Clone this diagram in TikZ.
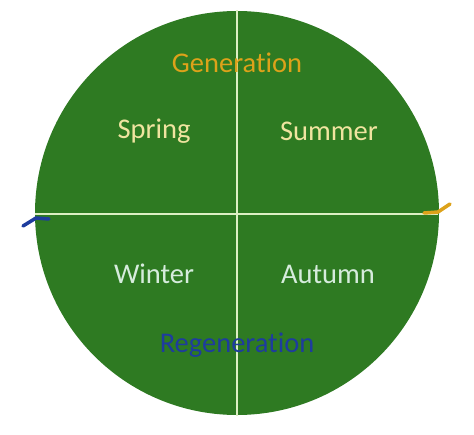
\documentclass[tikz,border=0pt]{standalone}
\usepackage{fontspec}
\setmainfont{Carlito}[Ligatures=NoCommon]
\definecolor{seasongreen}{HTML}{2E7A22}
\definecolor{axisline}{HTML}{DDEFC4}
\definecolor{gengold}{HTML}{DDA21A}
\definecolor{regenblue}{HTML}{1E3C9E}
\definecolor{warmtext}{HTML}{F0E4A0}
\definecolor{coldtext}{HTML}{D6ECDD}
\tikzset{season/.style={font=\fontsize{28.5}{32}\selectfont}}
\begin{document}
\begin{tikzpicture}[x=1pt,y=-1pt]
\useasboundingbox (0,0) rectangle (474,434);
% the year as a disc, split in quarters
\fill[seasongreen] (237,213) circle (202);
\draw[axisline,line width=1.3pt] (237,10) -- (237,416);
\draw[axisline,line width=1.3pt] (35,214) -- (438,214);
% seasons
\node[season,text=warmtext] (spring) at (154,131) {Spring};
\node[season,text=warmtext] (summer) at (329,131) {Summer};
\node[season,text=coldtext] (winter) at (154,274) {Winter};
\node[season,text=coldtext] (autumn) at (328,274) {Autumn};
% the two halves
\node[season,text=gengold] (gen) at (237,63) {Generation};
\node[season,text=regenblue] (regen) at (237,345) {Regeneration};
% small ticks on the rim
\coordinate (lefta) at (23,226);
\coordinate (leftb) at (36,218);
\coordinate (leftc) at (49,219);
\draw[regenblue,line width=3.5pt,line cap=round] (lefta) -- (leftb) -- (leftc);
\coordinate (righta) at (424,213);
\coordinate (rightb) at (438,212);
\coordinate (rightc) at (450,204);
\draw[gengold,line width=3.5pt,line cap=round] (righta) -- (rightb) -- (rightc);
\end{tikzpicture}
\end{document}
